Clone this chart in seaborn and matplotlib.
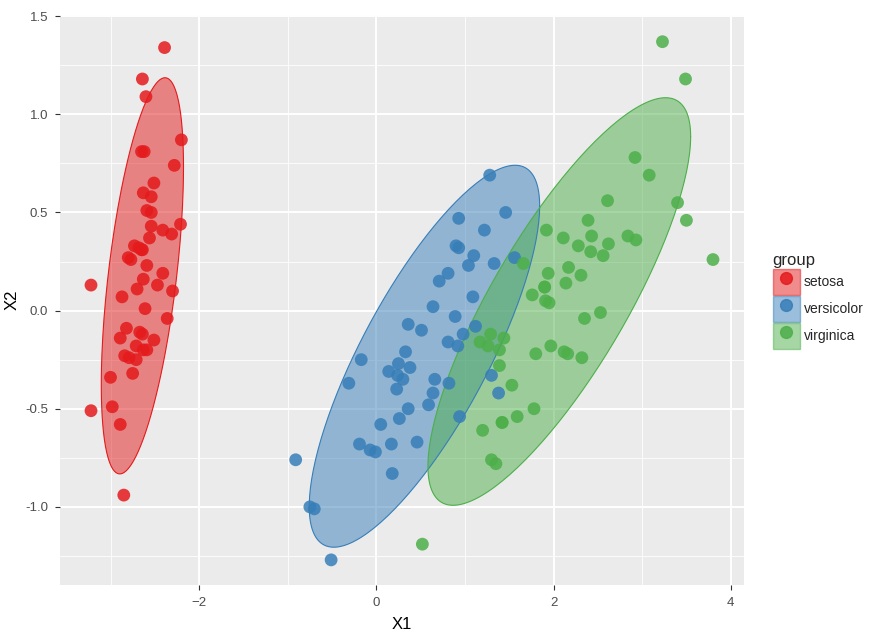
import numpy as np
import pandas as pd
import seaborn as sns
import matplotlib.pyplot as plt
from matplotlib.patches import Patch
from matplotlib.lines import Line2D
from matplotlib.legend_handler import HandlerTuple

# scores (PC1 -> X1, PC2 -> X2)
setosa_x1 = [-2.68, -2.71, -2.89, -2.75, -2.73, -2.28, -2.82, -2.63, -2.89, -2.67,
             -2.51, -2.61, -2.79, -3.22, -2.64, -2.39, -2.62, -2.65, -2.20, -2.59,
             -2.31, -2.54, -3.22, -2.30, -2.36, -2.51, -2.47, -2.56, -2.64, -2.63,
             -2.59, -2.41, -2.65, -2.60, -2.64, -2.87, -2.63, -2.80, -2.98, -2.59,
             -2.77, -2.85, -3.00, -2.41, -2.21, -2.71, -2.54, -2.84, -2.54, -2.70]
setosa_x2 = [0.32, -0.18, -0.14, -0.32, 0.33, 0.74, -0.09, 0.16, -0.58, -0.11,
             0.65, 0.01, -0.24, -0.51, 1.18, 1.34, 0.81, 0.31, 0.87, 0.51,
             0.39, 0.43, 0.13, 0.10, -0.04, -0.15, 0.13, 0.37, 0.31, -0.20,
             -0.20, 0.41, 0.81, 1.09, -0.12, 0.07, 0.60, 0.27, -0.49, 0.23,
             0.26, -0.94, -0.34, 0.19, 0.44, -0.25, 0.50, -0.23, 0.58, 0.11]
versicolor_x1 = [1.28, 0.93, 1.46, 0.18, 1.09, 0.64, 1.10, -0.75, 1.04, -0.01,
                 -0.51, 0.51, 0.26, 0.98, -0.17, 0.93, 0.66, 0.24, 0.94, 0.05,
                 1.12, 0.36, 1.30, 0.92, 0.71, 0.90, 1.33, 1.56, 0.81, -0.31,
                 -0.07, -0.19, 0.14, 1.38, 0.59, 0.81, 1.22, 0.82, 0.25, 0.17,
                 0.46, 0.89, 0.23, -0.70, 0.36, 0.33, 0.38, 0.64, -0.91, 0.30]
versicolor_x2 = [0.69, 0.32, 0.50, -0.83, 0.07, -0.42, 0.28, -1.00, 0.23, -0.72,
                 -1.27, -0.10, -0.55, -0.12, -0.25, 0.47, -0.35, -0.33, -0.54, -0.58,
                 -0.08, -0.07, -0.33, -0.18, 0.15, 0.33, 0.24, 0.27, -0.16, -0.37,
                 -0.71, -0.68, -0.31, -0.42, -0.48, 0.19, 0.41, -0.37, -0.27, -0.68,
                 -0.67, -0.03, -0.40, -1.01, -0.50, -0.21, -0.29, 0.02, -0.76, -0.35]
virginica_x1 = [2.53, 1.42, 2.62, 1.97, 2.35, 3.40, 0.52, 2.93, 2.32, 2.92,
                1.66, 1.80, 2.17, 1.35, 1.59, 1.90, 1.95, 3.49, 3.80, 1.30,
                2.43, 1.20, 3.50, 1.39, 2.28, 2.61, 1.26, 1.29, 2.12, 2.39,
                2.84, 3.23, 2.16, 1.44, 1.78, 3.08, 2.14, 1.91, 1.17, 2.11,
                2.31, 1.92, 1.42, 2.56, 2.42, 1.94, 1.53, 1.76, 1.90, 1.39]
virginica_x2 = [-0.01, -0.57, 0.34, -0.18, -0.04, 0.55, -1.19, 0.36, -0.24, 0.78,
                0.24, -0.22, 0.22, -0.78, -0.54, 0.12, 0.04, 1.18, 0.26, -0.76,
                0.38, -0.61, 0.46, -0.20, 0.33, 0.56, -0.18, -0.12, -0.21, 0.46,
                0.38, 1.37, -0.22, -0.14, -0.50, 0.69, 0.14, 0.05, -0.16, 0.37,
                0.18, 0.41, -0.57, 0.28, 0.30, 0.19, -0.38, 0.08, 0.12, -0.28]

groups = ["setosa", "versicolor", "virginica"]
colors = ["#E41A1C", "#377EB8", "#4DAF4A"]

df = pd.DataFrame({
    "X1": setosa_x1 + versicolor_x1 + virginica_x1,
    "X2": setosa_x2 + versicolor_x2 + virginica_x2,
    "group": ["setosa"] * 50 + ["versicolor"] * 50 + ["virginica"] * 50,
})


def cov_trob(x, nu=5, tol=1e-4, maxit=50):
    # multivariate-t robust location/scatter (same idea as MASS::cov.trob)
    n, p = x.shape
    w = np.ones(n)
    loc = x.mean(axis=0)
    for _ in range(maxit):
        w0 = w
        X = x - loc
        S = (w[:, None] * X).T @ X / w.sum()
        Q = np.einsum("ij,jk,ik->i", X, np.linalg.inv(S), X)
        w = (nu + p) / (nu + Q)
        loc = (w[:, None] * x).sum(axis=0) / w.sum()
        if np.all(np.abs(w - w0) < tol):
            break
    cov = (w[:, None] * X).T @ X / n
    return loc, cov


sns.set_theme(style="darkgrid")
plt.rcParams["font.family"] = ["Liberation Sans", "DejaVu Sans"]

fig = plt.figure(figsize=(8.75, 6.35), dpi=100)
ax = fig.add_axes([60 / 875, 50 / 635, 684 / 875, 570 / 635])
ax.set_facecolor("#EBEBEB")

# 95% ellipse per group, like stat_ellipse(type = "t")
f95 = 3.1866  # qf(0.95, 2, 49)
t = np.linspace(0, 2 * np.pi, 200)
circle = np.column_stack([np.cos(t), np.sin(t)])
for g, c in zip(groups, colors):
    sub = df[df.group == g][["X1", "X2"]].to_numpy()
    mu, cov = cov_trob(sub)
    r = np.sqrt(2 * f95)
    pts = mu + r * circle @ np.linalg.cholesky(cov).T
    ax.fill(pts[:, 0], pts[:, 1], facecolor=c, alpha=0.5, edgecolor="none", zorder=2)
    ax.plot(pts[:, 0], pts[:, 1], color=c, lw=0.8, zorder=2.1)

sns.scatterplot(data=df, x="X1", y="X2", hue="group", palette=colors,
                s=85, alpha=0.85, edgecolor="none", legend=False, ax=ax, zorder=3)

ax.set_xlim(-3.57, 4.15)
ax.set_ylim(-1.398, 1.506)
ax.set_xticks([-2, 0, 2, 4])
ax.set_yticks([-1.0, -0.5, 0.0, 0.5, 1.0, 1.5])
ax.set_yticklabels(["-1.0", "-0.5", "0.0", "0.5", "1.0", "1.5"])
ax.set_xticks([-3, -1, 1, 3], minor=True)
ax.set_yticks(np.arange(-1.25, 1.5, 0.5), minor=True)
ax.grid(which="major", color="white", lw=1.4)
ax.grid(which="minor", color="white", lw=0.6)
ax.set_axisbelow(True)
for s in ax.spines.values():
    s.set_visible(False)
ax.tick_params(which="major", length=3.5, width=0.8, color="#333333",
               labelsize=9.5, labelcolor="#4D4D4D", pad=5, left=True, bottom=True)
ax.tick_params(which="minor", length=0)
ax.set_xlabel("X1", fontsize=12, color="black", labelpad=6)
ax.set_ylabel("X2", fontsize=12, color="black", labelpad=4)

handles = [(Patch(facecolor=c, alpha=0.5, edgecolor=c, lw=1),
            Line2D([], [], marker="o", ls="", color=c, markersize=8.5, alpha=0.85))
           for c in colors]
leg = fig.legend(handles, groups, title="group", loc="center left",
                 bbox_to_anchor=(760 / 875, 1 - 301 / 635), frameon=False,
                 handler_map={tuple: HandlerTuple(ndivide=1, pad=0)},
                 handlelength=1.95, handleheight=2.5, labelspacing=0.08,
                 handletextpad=0.3, fontsize=10, title_fontsize=12,
                 alignment="left")

fig.savefig("out.png", dpi=100)
